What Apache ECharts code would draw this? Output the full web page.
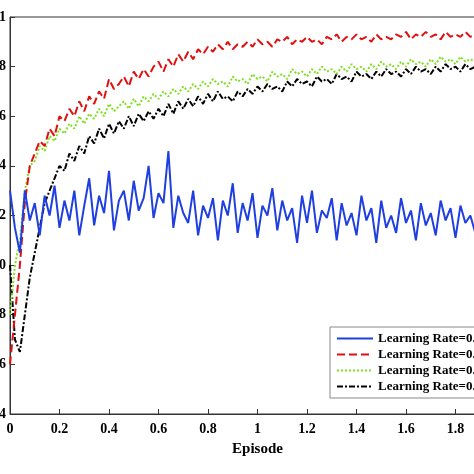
<!DOCTYPE html><html><head><meta charset="utf-8"><script src="https://cdn.jsdelivr.net/npm/echarts@6/dist/echarts.min.js"></script>
<style>html,body{margin:0;padding:0;background:#fff}#c{width:474px;height:474px}</style></head><body><div id="c"></div><script>
const names=["Learning Rate=0.1","Learning Rate=0.01","Learning Rate=0.001","Learning Rate=0.0001"];
const xStep=0.02;
const blue=[0.93,0.915,0.905,0.93,0.918,0.925,0.912,0.928,0.92,0.932,0.915,0.926,0.918,0.93,0.912,0.924,0.935,0.916,0.928,0.921,0.938,0.914,0.926,0.93,0.918,0.934,0.922,0.927,0.94,0.919,0.929,0.925,0.946,0.915,0.928,0.921,0.917,0.93,0.912,0.924,0.919,0.927,0.91,0.926,0.92,0.933,0.913,0.925,0.918,0.929,0.911,0.924,0.92,0.931,0.914,0.926,0.918,0.923,0.909,0.928,0.917,0.93,0.913,0.922,0.919,0.927,0.91,0.925,0.916,0.921,0.912,0.928,0.918,0.923,0.909,0.926,0.915,0.92,0.913,0.927,0.917,0.922,0.91,0.925,0.916,0.921,0.912,0.926,0.918,0.923,0.911,0.924,0.917,0.92,0.913,0.922];
const red=[0.86,0.88,0.9,0.925,0.94,0.945,0.95,0.948,0.955,0.952,0.96,0.958,0.963,0.96,0.966,0.962,0.968,0.965,0.97,0.967,0.975,0.971,0.973,0.976,0.972,0.978,0.975,0.979,0.976,0.98,0.982,0.978,0.983,0.98,0.985,0.982,0.986,0.983,0.987,0.985,0.988,0.986,0.989,0.987,0.99,0.987,0.989,0.988,0.99,0.988,0.991,0.989,0.99,0.988,0.991,0.99,0.992,0.989,0.991,0.99,0.992,0.99,0.991,0.989,0.992,0.991,0.993,0.99,0.992,0.991,0.993,0.991,0.992,0.99,0.993,0.991,0.992,0.991,0.993,0.992,0.994,0.991,0.993,0.992,0.994,0.992,0.993,0.991,0.994,0.992,0.993,0.992,0.994,0.992,0.993,0.992];
const green=[0.88,0.9,0.91,0.93,0.94,0.942,0.948,0.946,0.952,0.95,0.955,0.953,0.957,0.955,0.96,0.957,0.961,0.959,0.963,0.96,0.965,0.962,0.964,0.966,0.963,0.967,0.964,0.968,0.966,0.969,0.967,0.97,0.968,0.971,0.969,0.972,0.97,0.973,0.971,0.974,0.972,0.975,0.973,0.974,0.972,0.976,0.974,0.975,0.973,0.977,0.975,0.976,0.974,0.978,0.976,0.977,0.975,0.979,0.977,0.978,0.976,0.979,0.977,0.98,0.978,0.979,0.977,0.98,0.978,0.981,0.979,0.98,0.978,0.981,0.979,0.982,0.98,0.981,0.979,0.982,0.98,0.983,0.981,0.982,0.98,0.983,0.981,0.984,0.982,0.983,0.981,0.984,0.982,0.983,0.982,0.984];
const black=[0.9,0.87,0.865,0.88,0.895,0.905,0.915,0.925,0.93,0.935,0.94,0.938,0.945,0.942,0.948,0.945,0.952,0.949,0.955,0.951,0.957,0.953,0.958,0.955,0.96,0.956,0.961,0.958,0.962,0.959,0.963,0.96,0.965,0.961,0.966,0.963,0.967,0.964,0.968,0.965,0.969,0.966,0.97,0.967,0.968,0.966,0.97,0.968,0.971,0.969,0.972,0.97,0.973,0.971,0.972,0.97,0.974,0.972,0.975,0.973,0.974,0.972,0.976,0.974,0.975,0.973,0.977,0.975,0.976,0.974,0.978,0.976,0.977,0.975,0.978,0.976,0.979,0.977,0.978,0.976,0.979,0.977,0.98,0.978,0.979,0.977,0.98,0.978,0.981,0.979,0.98,0.978,0.981,0.979,0.98,0.979];
const colors=['#1f3fe0','#e01010','#7ee020','#000000'];
const types=['solid','dashed',[2,2],[6,2,2,2]];
const pts=a=>a.map((v,i)=>[+(i*xStep).toFixed(2),v]);
const font='Liberation Serif';
const ch=echarts.init(document.getElementById('c'));
ch.setOption({animation:false,
grid:{left:10,right:-31,top:17,bottom:60,containLabel:false,outerBoundsMode:'none',show:true,borderColor:'#333',borderWidth:1},
legend:{orient:'vertical',left:330,top:327,data:names,itemWidth:36,itemHeight:10,itemGap:3,padding:[5,6,5,6],backgroundColor:'#fff',borderColor:'#888',borderWidth:1,itemStyle:{opacity:0},textStyle:{fontFamily:font,fontWeight:'bold',fontSize:13,color:'#000'}},
xAxis:{type:'value',min:0,max:2,interval:0.2,name:'Episode',nameLocation:'middle',nameGap:28,nameTextStyle:{fontFamily:font,fontWeight:'bold',fontSize:15,color:'#000'},axisLine:{lineStyle:{color:'#333'}},axisTick:{inside:true,lineStyle:{color:'#333'}},splitLine:{show:false},axisLabel:{fontFamily:font,fontWeight:'bold',fontSize:14,color:'#000',formatter:v=>v===0?'0':String(+v.toFixed(1))}},
yAxis:{type:'value',min:0.84,max:1,interval:0.02,axisLine:{show:true,lineStyle:{color:'#333'}},axisTick:{inside:true,lineStyle:{color:'#333'}},splitLine:{show:false},axisLabel:{fontFamily:font,fontWeight:'bold',fontSize:14,color:'#000',margin:4,formatter:v=>v===1?'1':v.toFixed(2)}},
series:[blue,red,green,black].map((d,i)=>({name:names[i],type:'line',data:pts(d),showSymbol:false,symbol:'none',z:i===0?5:4-i,lineStyle:{color:colors[i],width:2,type:types[i]},itemStyle:{color:colors[i]}}))
});
</script></body></html>
